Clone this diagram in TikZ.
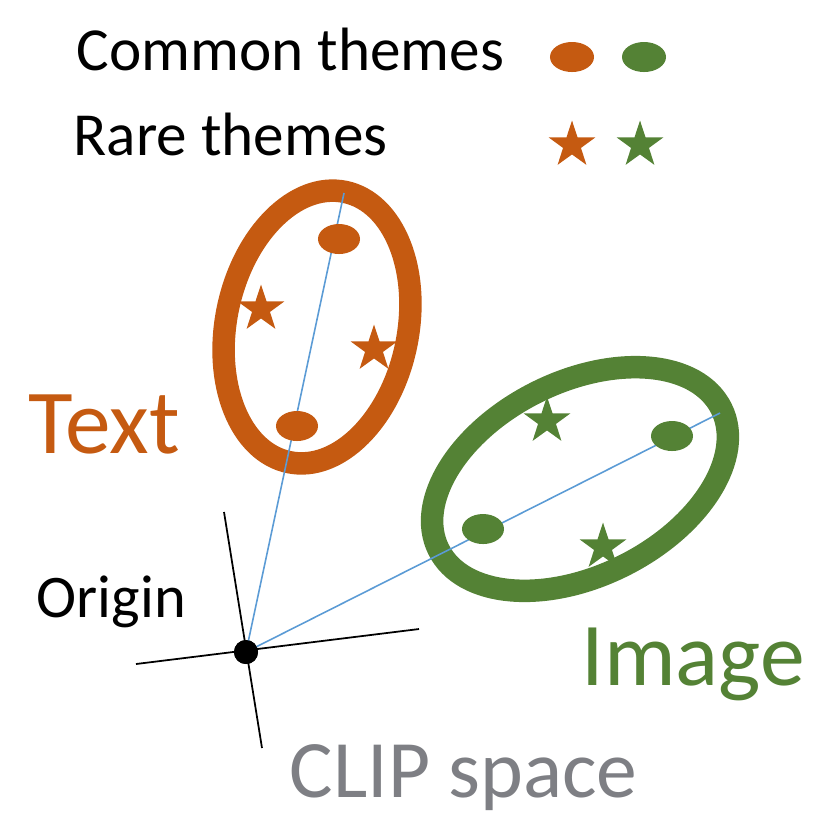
\documentclass[tikz,border=0pt]{standalone}
\usepackage{fontspec}
\setmainfont{Carlito}
\usepackage{tikz}
\usetikzlibrary{shapes.geometric}
\usepackage{xcolor}
\definecolor{txtorange}{HTML}{C55A11}
\definecolor{imggreen}{HTML}{548235}
\definecolor{lineblue}{HTML}{5B9BD5}
\definecolor{clipgray}{HTML}{7E7F84}

\begin{document}
\begin{tikzpicture}[x=0.01cm,y=-0.01cm,
  ring/.style={line width=6.4pt},
  dir/.style={lineblue,line width=0.45pt},
  axis/.style={black,line width=0.5pt},
  dot/.style={ellipse,fill,inner sep=0pt,minimum width=0.42cm,minimum height=0.30cm},
  rare/.style={star,star points=5,star point ratio=2.6,fill,inner sep=0pt,minimum size=0.49cm},
  lbl/.style={anchor=base west,inner sep=0pt}]
  \useasboundingbox (0,0) rectangle (837,835);
  \coordinate (pTc) at (317,327);
  \coordinate (pIc) at (580,479);
  \coordinate (pTend) at (344,193);
  \coordinate (pIend) at (720,413);
  \coordinate (pA1) at (224,512);
  \coordinate (pA2) at (262,748);
  \coordinate (pB1) at (136,664);
  \coordinate (pB2) at (419,629);
  \node[lbl,font=\fontsize{17.4}{20}\selectfont] (common) at (76,70) {Common themes};
  \node[lbl,font=\fontsize{17.4}{20}\selectfont] (rare) at (73,155) {Rare themes};
  \node[dot,txtorange,minimum width=0.44cm] (lgT) at (572,57) {};
  \node[dot,imggreen,minimum width=0.44cm] (lgI) at (644,57) {};
  \node[rare,txtorange] (lsT) at (572,145) {};
  \node[rare,imggreen] (lsI) at (640,145) {};
  \draw[ring,txtorange,rotate around={78.3:(pTc)}] (pTc) ellipse [x radius=138,y radius=91];
  \draw[ring,imggreen,rotate around={26.5:(pIc)}] (pIc) ellipse [x radius=158,y radius=97];
  \node[circle,fill=black,inner sep=0pt,minimum size=0.24cm] (pO) at (246,652) {};
  \draw[axis] (pA1) -- (pA2);
  \draw[axis] (pB1) -- (pB2);
  \draw[dir] (pO.center) -- (pTend);
  \draw[dir] (pO.center) -- (pIend);
  \node[circle,fill=black,inner sep=0pt,minimum size=0.24cm] at (pO) {};
  \node[dot,txtorange] (tTop) at (339,239) {};
  \node[dot,txtorange] (tBot) at (297,426) {};
  \node[rare,txtorange] (tS1) at (261,309) {};
  \node[rare,txtorange] (tS2) at (374,349) {};
  \node[dot,imggreen] (iLeft) at (483,529) {};
  \node[dot,imggreen] (iRight) at (672,436) {};
  \node[rare,imggreen] (iS1) at (547,421) {};
  \node[rare,imggreen] (iS2) at (603,547) {};
  \node[lbl,txtorange,font=\fontsize{26}{30}\selectfont] (txt) at (28,453) {Text};
  \node[lbl,font=\fontsize{17.2}{20}\selectfont] (orig) at (36,617) {Origin};
  \node[lbl,imggreen,font=\fontsize{25.5}{30}\selectfont] (img) at (581,685) {Image};
  \node[lbl,clipgray,font=\fontsize{23.2}{28}\selectfont] (clip) at (289,797) {CLIP space};
\end{tikzpicture}
\end{document}
